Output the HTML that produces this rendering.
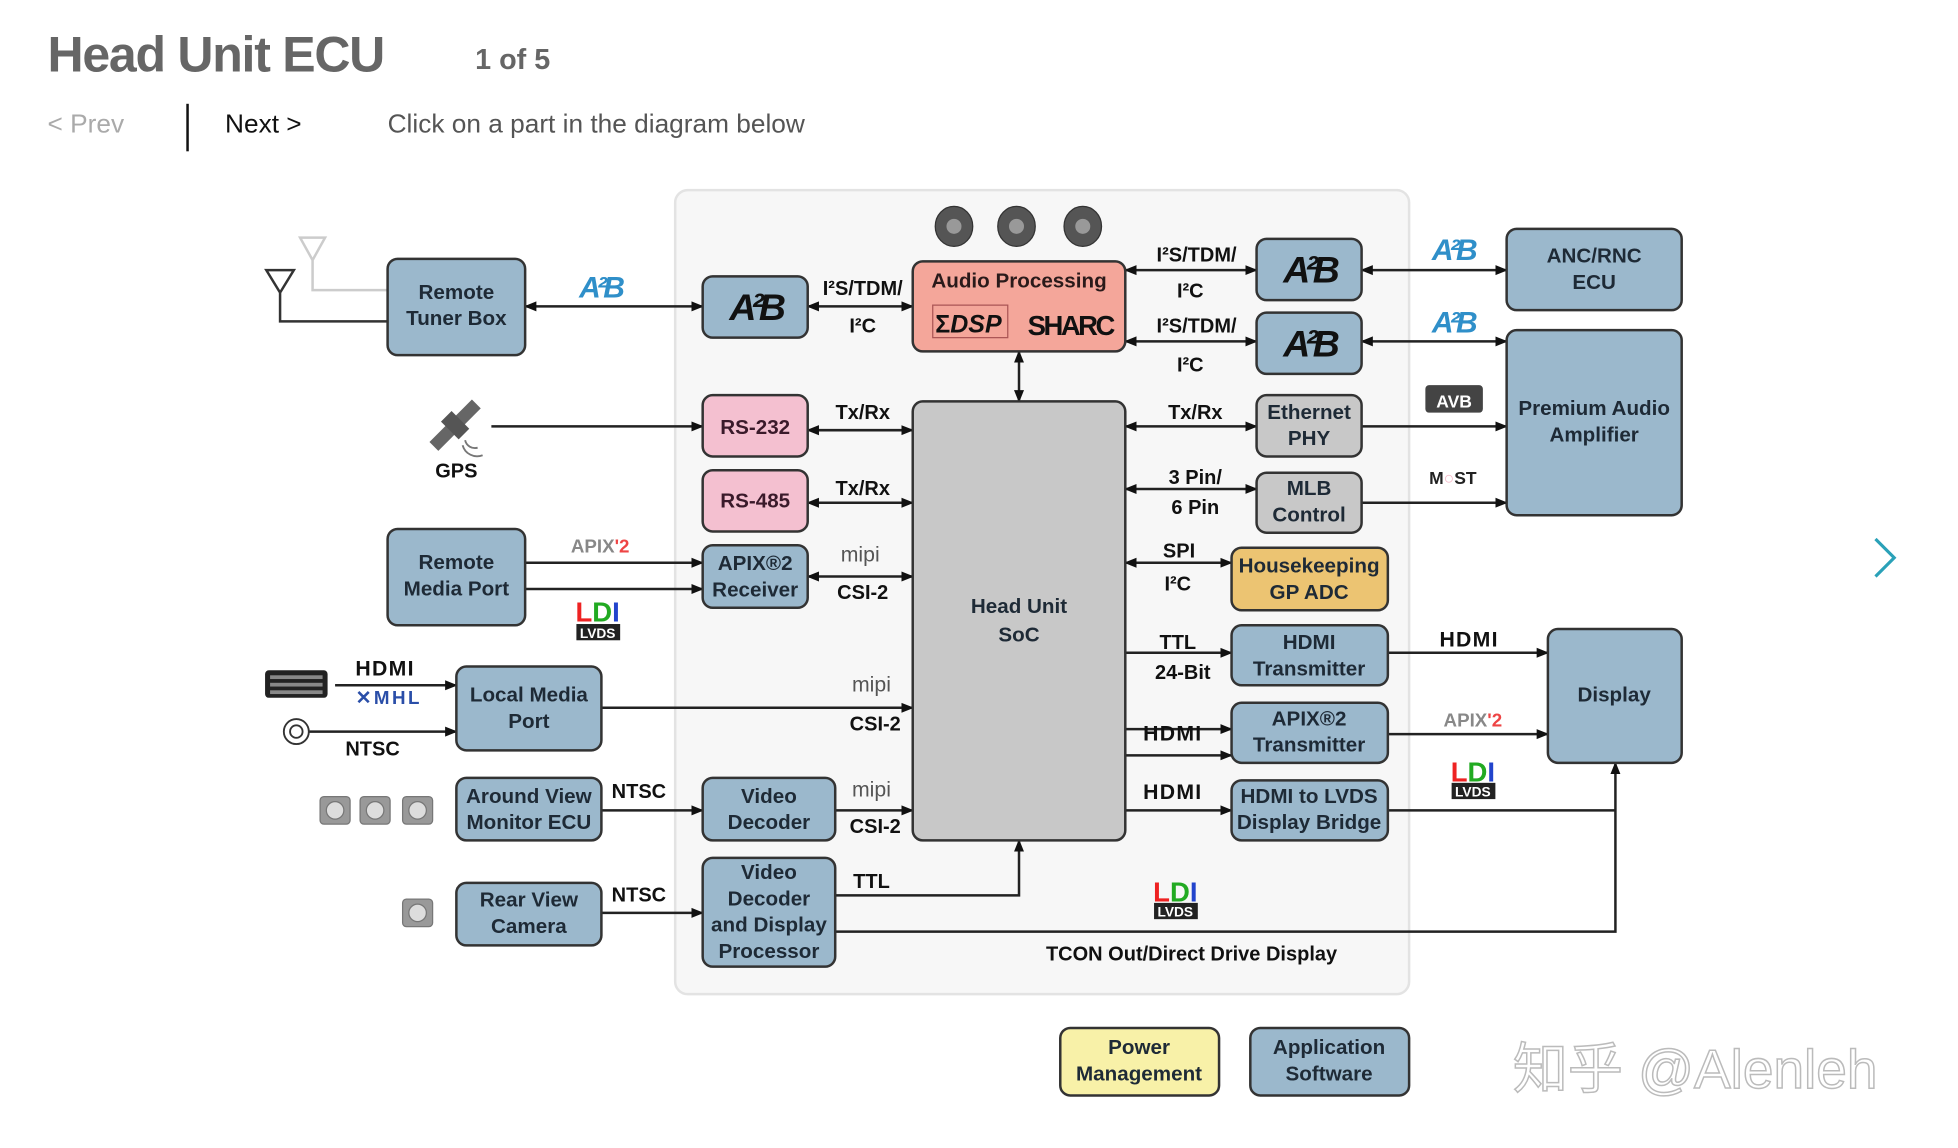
<!DOCTYPE html>
<html><head><meta charset="utf-8"><style>
html,body{margin:0;padding:0;background:#fff;}
svg{display:block;}
text{font-family:"Liberation Sans","Noto Sans CJK SC",sans-serif;}
.b{font-weight:bold;font-size:16.5px;fill:#1e2a36;text-anchor:middle;}
.l{font-weight:bold;font-size:16px;fill:#111;text-anchor:middle;}
.ln{stroke:#222;stroke-width:2;fill:none;}
.bx{stroke:#333;stroke-width:2;}
.blue{fill:#9bb8cc;} .grey{fill:#c8c8c8;} .pink{fill:#f4c0d0;} .sal{fill:#f4a69a;} .gold{fill:#ecc472;} .yel{fill:#f8f1a8;}
.a2b{font-weight:bold;font-style:italic;font-size:24px;fill:#2f8fc9;text-anchor:middle;letter-spacing:-3px;}
.a2bk{font-weight:bold;font-style:italic;font-size:30px;fill:#111;text-anchor:middle;letter-spacing:-4px;}
.hdmi{font-weight:bold;font-size:17px;fill:#111;text-anchor:middle;letter-spacing:1px;}
.mipi{font-size:17px;fill:#555;text-anchor:middle;}
</style></head><body>
<svg width="1958" height="1148" viewBox="0 0 1566 918" preserveAspectRatio="none" xmlns="http://www.w3.org/2000/svg">
<defs>
<marker id="ar" markerWidth="10" markerHeight="10" refX="9" refY="5" orient="auto-start-reverse" markerUnits="userSpaceOnUse"><path d="M0,1 L10,5 L0,9 z" fill="#111"/></marker>
</defs>
<text x="38" y="57" style="font-weight:bold;font-size:40px;fill:#666;letter-spacing:-1px">Head Unit ECU</text>
<text x="380" y="55" style="font-weight:bold;font-size:23px;fill:#666">1 of 5</text>
<text x="38" y="106" style="font-size:21px;fill:#aaa">&lt;  Prev</text>
<line x1="150" y1="83" x2="150" y2="121" stroke="#111" stroke-width="2"/>
<text x="180" y="106" style="font-size:21px;fill:#111">Next  &gt;</text>
<text x="310" y="106" style="font-size:21px;fill:#555">Click on a part in the diagram below</text>
<rect x="540" y="152" width="587" height="643" rx="10" fill="#f7f7f7" stroke="#e3e3e3" stroke-width="2"/>
<g fill="#555" stroke="#333"><ellipse cx="763" cy="181" rx="15" ry="16"/><ellipse cx="813" cy="181" rx="15" ry="16"/><ellipse cx="866" cy="181" rx="15" ry="16"/></g>
<g fill="#999"><circle cx="763" cy="181" r="6"/><circle cx="813" cy="181" r="6"/><circle cx="866" cy="181" r="6"/></g>
<path d="M250,190 l-10,0 l10,18 l10,-18 z M250,208 V232 H310" fill="none" stroke="#ccc" stroke-width="2"/>
<path d="M224,216 l-11,0 l11,18 l11,-18 z M224,234 V257 H310" fill="none" stroke="#333" stroke-width="2"/>
<g class="ln">
<line x1="420" y1="245" x2="562" y2="245" marker-start="url(#ar)" marker-end="url(#ar)"/>
<line x1="646" y1="245" x2="730" y2="245" marker-start="url(#ar)" marker-end="url(#ar)"/>
<line x1="815" y1="281" x2="815" y2="321" marker-start="url(#ar)" marker-end="url(#ar)"/>
<line x1="900" y1="216" x2="1005" y2="216" marker-start="url(#ar)" marker-end="url(#ar)"/>
<line x1="900" y1="273" x2="1005" y2="273" marker-start="url(#ar)" marker-end="url(#ar)"/>
<line x1="1089" y1="216" x2="1205" y2="216" marker-start="url(#ar)" marker-end="url(#ar)"/>
<line x1="1089" y1="273" x2="1205" y2="273" marker-start="url(#ar)" marker-end="url(#ar)"/>
<line x1="393" y1="341" x2="562" y2="341" marker-end="url(#ar)"/>
<line x1="646" y1="344" x2="730" y2="344" marker-start="url(#ar)" marker-end="url(#ar)"/>
<line x1="646" y1="402" x2="730" y2="402" marker-start="url(#ar)" marker-end="url(#ar)"/>
<line x1="646" y1="461" x2="730" y2="461" marker-start="url(#ar)" marker-end="url(#ar)"/>
<line x1="420" y1="450" x2="562" y2="450" marker-end="url(#ar)"/>
<line x1="420" y1="471" x2="562" y2="471" marker-end="url(#ar)"/>
<line x1="268" y1="548" x2="365" y2="548" marker-end="url(#ar)"/>
<line x1="245" y1="585" x2="365" y2="585" marker-end="url(#ar)"/>
<line x1="481" y1="566" x2="730" y2="566" marker-end="url(#ar)"/>
<line x1="481" y1="648" x2="562" y2="648" marker-end="url(#ar)"/>
<line x1="668" y1="648" x2="730" y2="648" marker-end="url(#ar)"/>
<line x1="481" y1="730" x2="562" y2="730" marker-end="url(#ar)"/>
<polyline points="668,716 815,716 815,672" marker-end="url(#ar)"/>
<polyline points="668,745 1292,745 1292,610" marker-end="url(#ar)"/>
<line x1="900" y1="341" x2="1005" y2="341" marker-start="url(#ar)" marker-end="url(#ar)"/>
<line x1="1089" y1="341" x2="1205" y2="341" marker-end="url(#ar)"/>
<line x1="900" y1="391" x2="1005" y2="391" marker-start="url(#ar)" marker-end="url(#ar)"/>
<line x1="1089" y1="402" x2="1205" y2="402" marker-end="url(#ar)"/>
<line x1="900" y1="450" x2="985" y2="450" marker-start="url(#ar)" marker-end="url(#ar)"/>
<line x1="900" y1="522" x2="985" y2="522" marker-end="url(#ar)"/>
<line x1="1110" y1="522" x2="1238" y2="522" marker-end="url(#ar)"/>
<line x1="900" y1="583" x2="985" y2="583" marker-end="url(#ar)"/>
<line x1="900" y1="604" x2="985" y2="604" marker-end="url(#ar)"/>
<line x1="1110" y1="587" x2="1238" y2="587" marker-end="url(#ar)"/>
<line x1="900" y1="648" x2="985" y2="648" marker-end="url(#ar)"/>
<line x1="1110" y1="648" x2="1292" y2="648"/>
</g>
<g class="bx">
<rect class="blue" x="310" y="207" width="110" height="77" rx="8"/>
<rect class="blue" x="562" y="221" width="84" height="49" rx="8"/>
<rect class="sal" x="730" y="209" width="170" height="72" rx="8"/>
<rect class="blue" x="1005" y="191" width="84" height="49" rx="8"/>
<rect class="blue" x="1005" y="250" width="84" height="49" rx="8"/>
<rect class="blue" x="1205" y="183" width="140" height="65" rx="8"/>
<rect class="blue" x="1205" y="264" width="140" height="148" rx="8"/>
<rect class="grey" x="730" y="321" width="170" height="351" rx="8"/>
<rect class="pink" x="562" y="316" width="84" height="49" rx="8"/>
<rect class="pink" x="562" y="376" width="84" height="49" rx="8"/>
<rect class="blue" x="562" y="436" width="84" height="50" rx="8"/>
<rect class="blue" x="310" y="423" width="110" height="77" rx="8"/>
<rect class="blue" x="365" y="533" width="116" height="67" rx="8"/>
<rect class="blue" x="365" y="622" width="116" height="50" rx="8"/>
<rect class="blue" x="562" y="622" width="106" height="50" rx="8"/>
<rect class="blue" x="365" y="706" width="116" height="50" rx="8"/>
<rect class="blue" x="562" y="686" width="106" height="87" rx="8"/>
<rect class="grey" x="1005" y="316" width="84" height="49" rx="8"/>
<rect class="grey" x="1005" y="378" width="84" height="48" rx="8"/>
<rect class="gold" x="985" y="438" width="125" height="50" rx="8"/>
<rect class="blue" x="985" y="500" width="125" height="48" rx="8"/>
<rect class="blue" x="985" y="562" width="125" height="48" rx="8"/>
<rect class="blue" x="985" y="624" width="125" height="48" rx="8"/>
<rect class="blue" x="1238" y="503" width="107" height="107" rx="8"/>
<rect class="yel" x="848" y="822" width="127" height="54" rx="8"/>
<rect class="blue" x="1000" y="822" width="127" height="54" rx="8"/>
</g>
<text class="b" x="365" y="239">Remote</text><text class="b" x="365" y="260">Tuner Box</text>
<text class="a2bk" x="604" y="256">A²B</text>
<text class="b" x="815" y="230" style="fill:#2a1a1a">Audio Processing</text>
<rect x="746" y="244" width="60" height="26" fill="none" stroke="#a55" stroke-width="1"/>
<text x="748" y="266" style="font-weight:bold;font-size:20px;fill:#111"><tspan>Σ</tspan><tspan font-style="italic">DSP</tspan></text>
<text x="856" y="268" style="font-weight:bold;font-size:22px;fill:#111;text-anchor:middle;letter-spacing:-2px">SHARC</text>
<text class="a2bk" x="1047" y="226">A²B</text>
<text class="a2bk" x="1047" y="285">A²B</text>
<text class="b" x="1275" y="210">ANC/RNC</text><text class="b" x="1275" y="231">ECU</text>
<text class="b" x="1275" y="332">Premium Audio</text><text class="b" x="1275" y="353">Amplifier</text>
<text class="b" x="815" y="490">Head Unit</text><text class="b" x="815" y="513">SoC</text>
<text class="b" x="604" y="347" style="fill:#3a1a2a">RS-232</text>
<text class="b" x="604" y="406" style="fill:#3a1a2a">RS-485</text>
<text class="b" x="604" y="456">APIX®2</text><text class="b" x="604" y="477">Receiver</text>
<text class="b" x="365" y="455">Remote</text><text class="b" x="365" y="476">Media Port</text>
<text class="b" x="423" y="561">Local Media</text><text class="b" x="423" y="582">Port</text>
<text class="b" x="423" y="642">Around View</text><text class="b" x="423" y="663">Monitor ECU</text>
<text class="b" x="615" y="642">Video</text><text class="b" x="615" y="663">Decoder</text>
<text class="b" x="423" y="725">Rear View</text><text class="b" x="423" y="746">Camera</text>
<text class="b" x="615" y="703">Video</text><text class="b" x="615" y="724">Decoder</text><text class="b" x="615" y="745">and Display</text><text class="b" x="615" y="766">Processor</text>
<text class="b" x="1047" y="335">Ethernet</text><text class="b" x="1047" y="356">PHY</text>
<text class="b" x="1047" y="396">MLB</text><text class="b" x="1047" y="417">Control</text>
<text class="b" x="1047" y="458">Housekeeping</text><text class="b" x="1047" y="479">GP ADC</text>
<text class="b" x="1047" y="519">HDMI</text><text class="b" x="1047" y="540">Transmitter</text>
<text class="b" x="1047" y="580">APIX®2</text><text class="b" x="1047" y="601">Transmitter</text>
<text class="b" x="1047" y="642">HDMI to LVDS</text><text class="b" x="1047" y="663">Display Bridge</text>
<text class="b" x="1291" y="561">Display</text>
<text class="b" x="911" y="843">Power</text><text class="b" x="911" y="864">Management</text>
<text class="b" x="1063" y="843">Application</text><text class="b" x="1063" y="864">Software</text>
<text class="l" x="690" y="236">I²S/TDM/</text><text class="l" x="690" y="266">I²C</text>
<text class="l" x="957" y="209">I²S/TDM/</text><text class="l" x="952" y="238">I²C</text>
<text class="l" x="957" y="266">I²S/TDM/</text><text class="l" x="952" y="297">I²C</text>
<text class="l" x="690" y="335">Tx/Rx</text><text class="l" x="690" y="396">Tx/Rx</text>
<text class="mipi" x="688" y="449">mipi</text><text class="l" x="690" y="479">CSI-2</text>
<text class="mipi" x="697" y="553">mipi</text><text class="l" x="700" y="584">CSI-2</text>
<text class="mipi" x="697" y="637">mipi</text><text class="l" x="700" y="666">CSI-2</text>
<text class="l" x="511" y="638">NTSC</text><text class="l" x="511" y="721">NTSC</text>
<text class="l" x="298" y="604">NTSC</text>
<text class="l" x="697" y="710">TTL</text>
<text class="l" x="365" y="382">GPS</text>
<text class="l" x="956" y="335">Tx/Rx</text>
<text class="l" x="956" y="387">3 Pin/</text><text class="l" x="956" y="411">6 Pin</text>
<text class="l" x="943" y="446">SPI</text><text class="l" x="942" y="472">I²C</text>
<text class="l" x="942" y="519">TTL</text><text class="l" x="946" y="543">24-Bit</text>
<text class="l" x="953" y="768">TCON Out/Direct Drive Display</text>
<text class="a2b" x="480" y="238">A²B</text>
<text class="a2b" x="1162" y="208">A²B</text>
<text class="a2b" x="1162" y="266">A²B</text>
<text x="480" y="442" style="font-weight:bold;font-size:15px;fill:#888;text-anchor:middle">APIX<tspan fill="#e44">'2</tspan></text>
<text x="1178" y="581" style="font-weight:bold;font-size:15px;fill:#888;text-anchor:middle">APIX<tspan fill="#e44">'2</tspan></text>
<g style="font-weight:bold;font-size:22px;text-anchor:middle">
<text x="478" y="497"><tspan fill="#e22">L</tspan><tspan fill="#2a2">D</tspan><tspan fill="#24c">I</tspan></text>
<text x="940" y="721"><tspan fill="#e22">L</tspan><tspan fill="#2a2">D</tspan><tspan fill="#24c">I</tspan></text>
<text x="1178" y="625"><tspan fill="#e22">L</tspan><tspan fill="#2a2">D</tspan><tspan fill="#24c">I</tspan></text>
</g>
<g fill="#222"><rect x="461" y="499" width="35" height="13"/><rect x="923" y="722" width="35" height="13"/><rect x="1161" y="626" width="35" height="13"/></g>
<g style="font-weight:bold;font-size:11px;fill:#fff;text-anchor:middle"><text x="478" y="510">LVDS</text><text x="940" y="733">LVDS</text><text x="1178" y="637">LVDS</text></g>
<text class="hdmi" x="308" y="540">HDMI</text>
<text x="311" y="563" style="font-weight:bold;font-size:15px;fill:#2a4ea8;text-anchor:middle;letter-spacing:2px">✕MHL</text>
<text class="hdmi" x="1175" y="517">HDMI</text>
<text class="hdmi" x="938" y="592">HDMI</text>
<text class="hdmi" x="938" y="639">HDMI</text>
<rect x="1140" y="308" width="46" height="22" rx="3" fill="#444"/>
<text x="1163" y="326" style="font-weight:bold;font-size:14px;fill:#fff;text-anchor:middle">AVB</text>
<text x="1162" y="387" style="font-weight:bold;font-size:14px;fill:#222;text-anchor:middle">M<tspan fill="#f5b5c5">○</tspan>ST</text>
<g transform="rotate(-45 364 340)"><rect x="340" y="335" width="48" height="10" fill="#666"/><rect x="358" y="330" width="12" height="20" fill="#555"/></g>
<path d="M372,352 a8,8 0 0 0 10,6 M370,356 a12,12 0 0 0 16,8" stroke="#777" fill="none" stroke-width="1.5"/>
<rect x="212" y="536" width="50" height="22" rx="3" fill="#222"/>
<g fill="#888"><rect x="216" y="540" width="42" height="3"/><rect x="216" y="546" width="42" height="3"/><rect x="216" y="552" width="42" height="3"/></g>
<circle cx="237" cy="585" r="10" fill="#fff" stroke="#333" stroke-width="1.5"/><circle cx="237" cy="585" r="5" fill="none" stroke="#333" stroke-width="1.5"/>
<g fill="#999" stroke="#777"><rect x="256" y="637" width="24" height="22" rx="3"/><rect x="288" y="637" width="24" height="22" rx="3"/><rect x="322" y="637" width="24" height="22" rx="3"/><rect x="322" y="719" width="24" height="22" rx="3"/></g>
<g fill="#ddd" stroke="#777"><circle cx="268" cy="648" r="7"/><circle cx="300" cy="648" r="7"/><circle cx="334" cy="648" r="7"/><circle cx="334" cy="730" r="7"/></g>
<polyline points="1500,431 1515,446 1500,461" fill="none" stroke="#2aa1b8" stroke-width="2.5"/>
<text x="1210" y="870" style="font-size:44px;fill:#fff;stroke:#bbb;stroke-width:1.2">知乎 @Alenleh</text>
</svg>
</body></html>
